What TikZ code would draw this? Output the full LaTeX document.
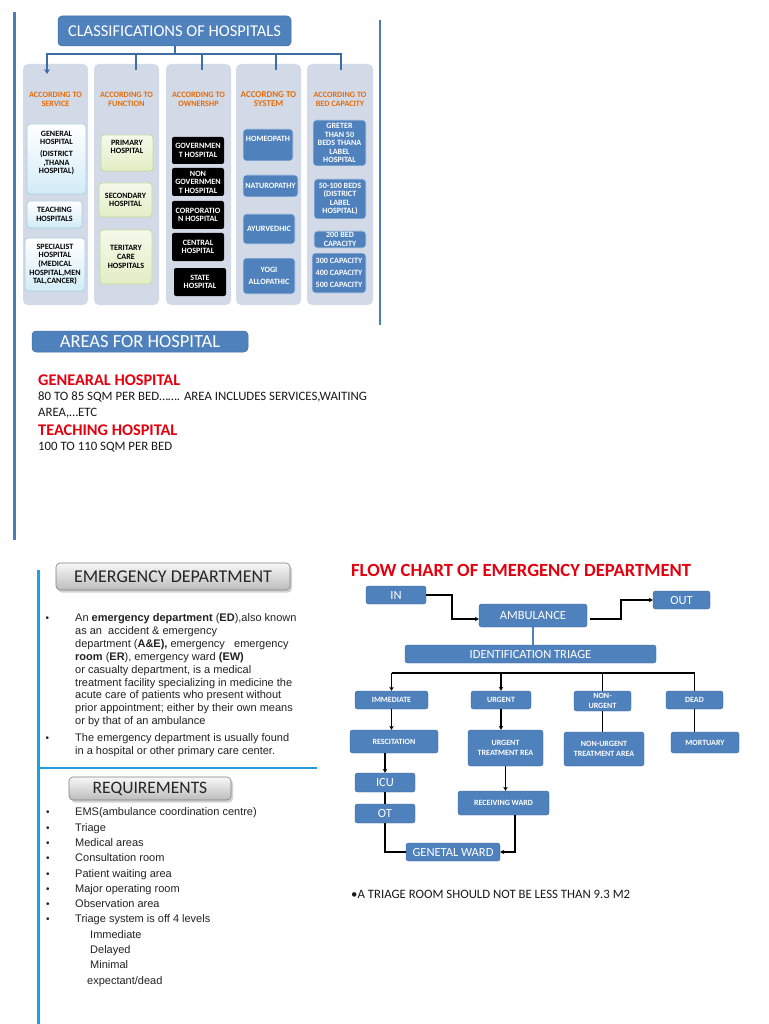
\documentclass[tikz,border=0pt]{standalone}
\usepackage{fontspec}
\setmainfont{Carlito}
\newfontfamily\arialf{Liberation Sans}
\usetikzlibrary{calc,arrows.meta,shadows}
\definecolor{hblue}{HTML}{4F81BD}
\definecolor{lineblue}{HTML}{4A7EBB}
\definecolor{connblue}{HTML}{3D6DA6}
\definecolor{panelc}{HTML}{D3DAE7}
\definecolor{orangec}{HTML}{E46C0A}
\definecolor{svcf}{HTML}{D2ECF7}
\definecolor{svcb}{HTML}{A9CDE4}
\definecolor{fnf}{HTML}{E2EEC4}
\definecolor{fnb}{HTML}{C5D89C}
\definecolor{redc}{HTML}{E3000F}
\definecolor{cyanl}{HTML}{1E9FE0}
\definecolor{txtc}{HTML}{222222}
\tikzset{
  sz/.style 2 args={minimum width=#1,minimum height=#2},
  titlebox/.style={fill=hblue, draw=hblue!85!black, line width=0.5pt, rounded corners=4pt, text=white, inner sep=0, font=\fontsize{16.5}{17}\selectfont},
  panel/.style={fill=panelc, rounded corners=5pt, inner sep=0},
  hdr/.style={text=orangec, font=\bfseries\fontsize{8.2}{8.8}\selectfont, align=center, inner sep=0},
  itm/.style={rounded corners=3pt, inner sep=0, align=center, font=\bfseries\fontsize{8.1}{8.6}\selectfont},
  svc/.style={itm, draw=svcb, line width=0.8pt, top color=white, bottom color=svcf},
  fnc/.style={itm, draw=fnb, line width=0.8pt, top color=fnf!35, bottom color=fnf},
  own/.style={itm, fill=black, text=white, rounded corners=2pt},
  sys/.style={itm, fill=hblue, draw=white!70!hblue, line width=0.8pt, text=white},
  txtonly/.style={inner sep=0, align=center, font=\bfseries\fontsize{8.1}{8.6}\selectfont},
  tconn/.style={draw=connblue, line width=2pt},
  vline/.style={draw=lineblue, line width=2.5pt},
  redh/.style={anchor=base west, inner sep=0, text=redc, font=\bfseries\fontsize{16.3}{17}\selectfont},
  areatxt/.style={anchor=base west, inner sep=0, text=black!90, font=\fontsize{12.8}{13}\selectfont},
  body/.style={anchor=base west, inner sep=0, text=txtc, font=\arialf\fontsize{11}{13}\selectfont},
  bul/.style={anchor=base west, inner sep=0, text=txtc, font=\arialf\fontsize{10}{10}\selectfont},
  edbox/.style={rounded corners=4pt, draw=black!50, line width=0.6pt, top color=white!97!black, bottom color=white!74!black, drop shadow={shadow xshift=2pt, shadow yshift=-2.5pt, opacity=0.35}, text=black!85, inner sep=0},
  fbox/.style={fill=hblue, draw=hblue!80!black, line width=0.4pt, rounded corners=2.5pt, text=white, inner sep=0, align=center, font=\fontsize{12.5}{13}\selectfont},
  fsm/.style={fbox, font=\bfseries\fontsize{8}{10.5}\selectfont},
  fconn/.style={draw=black, line width=1.8pt},
  farr/.style={fconn, -{Stealth[length=4pt,width=4.5pt]}},
}
\begin{document}
\begin{tikzpicture}[x=1pt,y=-1pt]
\useasboundingbox (0,0) rectangle (768,1024);
\fill[white] (0,0) rectangle (768,1024);

% ---------- top section ----------
\coordinate (vl1) at (14.5,12); \coordinate (vl2) at (14.5,540);
\draw[vline] (vl1) -- (vl2);
\coordinate (vr1) at (380,20); \coordinate (vr2) at (380,325);
\draw[vline, line width=2pt] (vr1) -- (vr2);

\node[titlebox, sz={233}{30}] (title) at (174.5,31) {CLASSIFICATIONS OF HOSPITALS};

\node[panel, sz={65}{241}] (p1) at (55.5,184.5) {};
\node[panel, sz={65}{241}] (p2) at (126.5,184.5) {};
\node[panel, sz={65}{241}] (p3) at (198.5,184.5) {};
\node[panel, sz={65}{241}] (p4) at (268.5,184.5) {};
\node[panel, sz={66}{241}] (p5) at (340,184.5) {};

\coordinate (d1) at (47,74);
\coordinate (d2) at (136,70);
\coordinate (d3) at (202,70);
\coordinate (d4) at (276,70);
\coordinate (d5) at (341,70);
\draw[tconn, -{Stealth[length=5pt,width=6pt]}] (title.south) -- ++(0,8) -| (d1);
\draw[tconn] (title.south) ++(0,8) -| (d2);
\draw[tconn] (title.south) ++(0,8) -| (d3);
\draw[tconn] (title.south) ++(0,8) -| (d4);
\draw[tconn] (title.south) ++(0,8) -| (d5);

\node[hdr] (h1) at (55.5,99.5) {ACCORDING TO\\SERVICE};
\node[hdr] (h2) at (126.5,99.5) {ACCORDING TO\\FUNCTION};
\node[hdr] (h3) at (198.5,99.5) {ACCORDING TO\\OWNERSHP};
\node[hdr, font=\bfseries\fontsize{9}{9.4}\selectfont] (h4) at (268.5,99) {ACCORDNG TO\\SYSTEM};
\node[hdr] (h5) at (340,99.5) {ACCORDING TO\\BED CAPACITY};

% column 1
\node[svc, sz={59}{70}] (gh) at (56.5,159) {};
\node[txtonly] (ght) at (56.5,153) {GENERAL\\HOSPITAL\\[3pt](DISTRICT\\,THANA\\HOSPITAL)};
\node[svc, sz={55}{27}] (th) at (54.5,214.5) {TEACHING\\HOSPITALS};
\node[svc, sz={60}{53}] (sp) at (55,264.5) {SPECIALIST\\HOSPITAL\\(MEDICAL\\HOSPITAL,MEN\\TAL,CANCER)};

% column 2
\node[fnc, sz={52}{36}] (pr) at (127,153) {};
\node[txtonly] (prt) at (127,147) {PRIMARY\\HOSPITAL};
\node[fnc, sz={53}{34}] (sec) at (125.5,200) {SECONDARY\\HOSPITAL};
\node[fnc, sz={52}{54}] (ter) at (126,257) {TERITARY\\CARE\\HOSPITALS};

% column 3
\node[own, sz={52}{27}] (gov) at (198,150.5) {GOVERNMEN\\T HOSPITAL};
\node[own, sz={52}{28}] (ngov) at (198,182) {NON\\GOVERNMEN\\T HOSPITAL};
\node[own, sz={52}{28}] (corp) at (198,215) {CORPORATIO\\N HOSPITAL};
\node[own, sz={52}{28}] (cen) at (198,247) {CENTRAL\\HOSPITAL};
\node[own, sz={52}{28}] (st) at (200,282) {STATE\\HOSPITAL};

% column 4
\node[sys, sz={50}{32}] (hom) at (268,145) {};
\node[txtonly, text=white] (homt) at (268,139) {HOMEOPATH};
\node[sys, sz={55}{22}] (nat) at (270.5,186) {NATUROPATHY};
\node[sys, sz={52}{30}] (ayu) at (269,229) {AYURVEDHIC};
\node[sys, sz={52}{36}] (yogi) at (269,276) {YOGI\\[4pt]ALLOPATHIC};

% column 5
\node[sys, sz={53}{46}] (gr) at (339.5,143) {GRETER\\THAN 50\\BEDS THANA\\LABEL\\HOSPITAL};
\node[sys, sz={52}{40}] (fh) at (340,199) {50-100 BEDS\\(DISTRICT\\LABEL\\HOSPITAL)};
\node[sys, sz={52}{17}] (tb) at (340,239.5) {200 BED\\CAPACITY};
\node[sys, sz={54}{40}, font=\bfseries\fontsize{8.1}{11.8}\selectfont] (thc) at (339,273) {300 CAPACITY\\400 CAPACITY\\500 CAPACITY};

% ---------- areas ----------
\node[titlebox, sz={216}{21}, font=\fontsize{18.5}{19}\selectfont] (areas) at (140,341.5) {AREAS FOR HOSPITAL};
\node[redh] (gen) at (38,385) {GENEARAL HOSPITAL};
\node[areatxt] (gen1) at (38,400) {80 TO 85 SQM PER BED\dots\dots. AREA INCLUDES SERVICES,WAITING};
\node[areatxt] (gen2) at (38,416.5) {AREA,\dots ETC};
\node[redh] (teach) at (38,435) {TEACHING HOSPITAL};
\node[areatxt] (teach1) at (38,450.7) {100 TO 110 SQM PER BED};

% ---------- emergency department ----------
\coordinate (cl1) at (38,570); \coordinate (cl2) at (38,1024);
\draw[draw=cyanl, line width=3pt] (cl1) -- (cl2);
\coordinate (hl1) at (38,768); \coordinate (hl2) at (317,768);
\draw[draw=cyanl, line width=1.5pt] (hl1) -- (hl2);

\node[edbox, sz={234}{27}, font=\fontsize{18}{18}\selectfont] (ed) at (173,576.5) {EMERGENCY DEPARTMENT};

\node[bul] (b1) at (45.5,621.8) {•};
\node[body] (e1) at (75,621.8) {An \textbf{emergency department} (\textbf{ED}),also known};
\node[body] (e2) at (75,634.65) {as an\ \ accident \& emergency};
\node[body] (e3) at (75,647.5) {department (\textbf{A\&E),} emergency\ \ \ emergency};
\node[body] (e4) at (75,660.35) {\textbf{room} (\textbf{ER}), emergency ward \textbf{(EW)}};
\node[body] (e5) at (75,673.2) {or casualty department, is a medical};
\node[body] (e6) at (75,686.05) {treatment facility specializing in medicine the};
\node[body] (e7) at (75,698.9) {acute care of patients who present without};
\node[body] (e8) at (75,711.75) {prior appointment; either by their own means};
\node[body] (e9) at (75,724.6) {or by that of an ambulance};
\node[bul] (b2) at (45.5,741.2) {•};
\node[body] (e10) at (75,741.2) {The emergency department is usually found};
\node[body] (e11) at (75,754) {in a hospital or other primary care center.};

\node[edbox, sz={162}{23}, font=\fontsize{17.5}{18}\selectfont] (req) at (150,788.5) {REQUIREMENTS};

\node[bul] (r1b) at (46,815.8) {•};
\node[body] (r1) at (75,815.8) {EMS(ambulance coordination centre)};
\node[bul] (r2b) at (46,831.1) {•};
\node[body] (r2) at (75,831.1) {Triage};
\node[bul] (r3b) at (46,846.4) {•};
\node[body] (r3) at (75,846.4) {Medical areas};
\node[bul] (r4b) at (46,861.7) {•};
\node[body] (r4) at (75,861.7) {Consultation room};
\node[bul] (r5b) at (46,877) {•};
\node[body] (r5) at (75,877) {Patient waiting area};
\node[bul] (r6b) at (46,892.3) {•};
\node[body] (r6) at (75,892.3) {Major operating room};
\node[bul] (r7b) at (46,907.6) {•};
\node[body] (r7) at (75,907.6) {Observation area};
\node[bul] (r8b) at (46,922.9) {•};
\node[body] (r8) at (75,922.9) {Triage system is off 4 levels};
\node[body] (r9) at (90,938.2) {Immediate};
\node[body] (r10) at (90,953.5) {Delayed};
\node[body] (r11) at (90,968.8) {Minimal};
\node[body] (r12) at (87,984.1) {expectant/dead};

% ---------- flow chart ----------
\node[anchor=base west, inner sep=0, text=redc, font=\bfseries\fontsize{18.6}{19}\selectfont] (fct) at (351,576) {FLOW CHART OF EMERGENCY DEPARTMENT};

\node[fbox, sz={60}{18}] (IN) at (396,595) {IN};
\node[fbox, sz={108}{23}] (AMB) at (533,615.5) {AMBULANCE};
\node[fbox, sz={57}{18}] (OUT) at (681.5,600) {OUT};
\node[fbox, sz={251}{18}] (ID) at (530.5,654) {IDENTIFICATION TRIAGE};

\node[fsm, sz={73}{18}] (IMM) at (391.5,700) {IMMEDIATE};
\node[fsm, sz={60}{18}] (URG) at (501,700) {URGENT};
\node[fsm, sz={57}{20}] (NU) at (602.5,701) {NON-\\URGENT};
\node[fsm, sz={57}{18}] (DEAD) at (694.5,700) {DEAD};

\node[fsm, sz={88}{23}] (RESC) at (394,741.5) {RESCITATION};
\node[fsm, sz={75}{36}] (UTR) at (505.5,748) {URGENT\\TREATMENT REA};
\node[fsm, sz={80}{34}] (NUTA) at (604,749) {NON-URGENT\\TREATMENT AREA};
\node[fsm, sz={68}{21}] (MORT) at (705,742.5) {MORTUARY};

\node[fbox, sz={60}{19}] (ICU) at (385,782.5) {ICU};
\node[fbox, sz={60}{19}] (OT) at (385,813.5) {OT};
\node[fsm, sz={91}{24}] (RW) at (503.5,803) {RECEIVING WARD};
\node[fbox, sz={94}{18}] (GW) at (453,852) {GENETAL WARD};

\draw[farr] (IN.east) -- ++(26,0) |- ($(AMB.west)+(0,3.5)$);
\draw[farr] ($(AMB.east)+(3,3.5)$) -- ++(31,0) |- (OUT.west);
\draw[draw=hblue, line width=2pt] (AMB.south) -- (AMB.south |- ID.north);

\coordinate (bus) at (530,673);
\draw[fconn] (IMM.north |- bus) -- (DEAD.north |- bus);
\draw[farr] (IMM.north |- bus) -- (IMM.north);
\draw[farr] (URG.north |- bus) -- (URG.north);
\draw[fconn] (NU.north |- bus) -- (NU.north);
\draw[fconn] (DEAD.north |- bus) -- (DEAD.north);

\draw[farr] (IMM.south) -- (IMM.south |- RESC.north);
\draw[farr] (URG.south) -- (URG.south |- UTR.north);
\draw[fconn] (NU.south) -- (NU.south |- NUTA.north);
\draw[fconn] (DEAD.south) -- (DEAD.south |- MORT.north);
\draw[farr] (ICU.north |- RESC.south) -- (ICU.north);
\draw[fconn] (ICU.south) -- (OT.north);
\draw[farr] (UTR.south) -- (UTR.south |- RW.north);
\draw[fconn] (OT.south) |- (GW.west);
\draw[farr] ($(RW.south)+(11.5,0)$) |- (GW.east);

\node[anchor=base west, inner sep=0, text=black!90, font=\fontsize{12.8}{13}\selectfont] (note) at (351,898) {\textbullet A TRIAGE ROOM SHOULD NOT BE LESS THAN 9.3 M2};
\end{tikzpicture}
\end{document}
